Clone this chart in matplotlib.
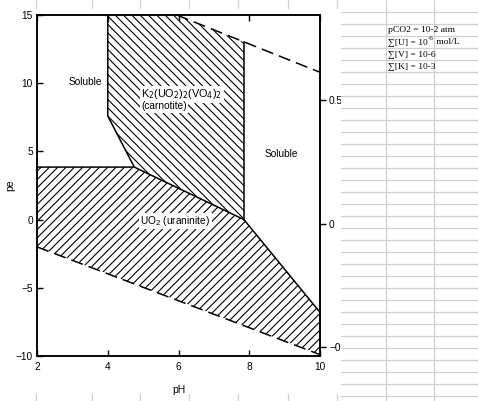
import matplotlib
matplotlib.use('Agg')
import matplotlib.pyplot as plt
from matplotlib.lines import Line2D
from matplotlib.patches import Polygon, Rectangle

plt.rcParams['font.family'] = ['Liberation Sans', 'DejaVu Sans']
plt.rcParams['hatch.linewidth'] = 0.8

# ---- data (pH, pe) ----
uraninite_ph = [2, 4.75, 7.85, 10, 10, 2]
uraninite_pe = [3.85, 3.85, 0, -6.8, -9.9, -2]
carnotite_ph = [4, 5.95, 7.85, 7.85, 4.75, 4]
carnotite_pe = [15, 15, 13, 0, 3.85, 7.6]

uo2_top_ph = [2, 4.75, 7.85, 10]
uo2_top_pe = [3.85, 3.85, 0, -6.8]
carn_left_ph = [4, 4, 4.75]
carn_left_pe = [15, 7.6, 3.85]
carn_right_ph = [7.85, 7.85]
carn_right_pe = [0, 13]
upper_dash_ph = [5.95, 10]
upper_dash_pe = [15, 10.8]
lower_dash_ph = [2, 10]
lower_dash_pe = [-2, -9.9]

x_ticks = [2, 4, 6, 8, 10]
y_ticks = [-10, -5, 0, 5, 10, 15]
eh_ticks = [-0.5, 0, 0.5]
eh_labels = ['\u22120', '0', '0.5']

# each note: list of (text, is_superscript)
notes = [[('pCO2 = 10-2 atm', False)],
         [('\u2211[U] = 10', False), ('-6', True), (' mol/L', False)],
         [('\u2211[V] = 10-6', False)],
         [('\u2211[K] = 10-3', False)]]

W, H = 478, 401
fig = plt.figure(figsize=(W / 100, H / 100), dpi=100)
ax = fig.add_axes([37 / W, 1 - 356 / H, 283 / W, 341 / H])

ax.add_patch(Polygon(list(zip(uraninite_ph, uraninite_pe)), closed=True,
                     facecolor='none', edgecolor='black', linewidth=0,
                     hatch='////', zorder=1))
ax.add_patch(Polygon(list(zip(carnotite_ph, carnotite_pe)), closed=True,
                     facecolor='none', edgecolor='black', linewidth=0,
                     hatch='\\\\\\\\', zorder=1))

lw = 1.1
ax.plot(uo2_top_ph, uo2_top_pe, color='black', lw=lw, zorder=3)
ax.plot(carn_left_ph, carn_left_pe, color='black', lw=lw, zorder=3)
ax.plot(carn_right_ph, carn_right_pe, color='black', lw=lw, zorder=3)
ax.plot(upper_dash_ph, upper_dash_pe, color='black', lw=lw, dashes=(8, 4), zorder=3)
ax.plot(lower_dash_ph, lower_dash_pe, color='black', lw=lw, dashes=(8, 4), zorder=3)

ax.set_xlim(2, 10)
ax.set_ylim(-10, 15)
ax.set_xticks(x_ticks)
ax.set_yticks(y_ticks)
ax.set_yticklabels([str(v).replace('-', '\u2212') for v in y_ticks])
ax.tick_params(axis='both', direction='in', length=4.5, width=1, labelsize=7.3,
               pad=3)
ax.tick_params(axis='x', top=True, pad=4.5)
for s in ax.spines.values():
    s.set_linewidth(1.1)

ax.set_xlabel('pH', fontsize=7.5, labelpad=9.5)
ax.set_ylabel('pe', fontsize=7.5, labelpad=0)

bb = dict(facecolor='white', edgecolor='none', pad=1)
ax.text(3.36, 10.1, 'Soluble', fontsize=7.3, ha='center', va='center')
ax.text(8.9, 4.8, 'Soluble', fontsize=7.3, ha='center', va='center')
ax.text(4.95, 9.2, r'K$_2$(UO$_2$)$_2$(VO$_4$)$_2$', fontsize=7.8, ha='left',
        va='center', bbox=bb, zorder=4)
ax.text(4.95, 8.3, '(carnotite)', fontsize=7.3, ha='left', va='center',
        bbox=bb, zorder=4)
ax.text(4.92, -0.1, r'UO$_2$ (uraninite)', fontsize=7.3, ha='left',
        va='center', bbox=bb, zorder=4)

ax2 = ax.twinx()
ax2.set_ylim(-0.536, 0.844)
ax2.set_yticks(eh_ticks)
ax2.set_yticklabels(eh_labels)
ax2.tick_params(axis='y', direction='out', length=4.5, width=1, labelsize=7.3,
                pad=2)
for s in ax2.spines.values():
    s.set_linewidth(1.1)

# ---- spreadsheet backdrop on the right ----
grid_c = '#d0d0d0'
fig.add_artist(Rectangle((341 / W, 0), 1 - 341 / W, 1, transform=fig.transFigure,
                         facecolor='white', edgecolor='none', zorder=5))
for k in range(33):
    y = 12 + 12 * k
    fig.add_artist(Line2D([341 / W, 1], [1 - y / H, 1 - y / H],
                          transform=fig.transFigure, color=grid_c, lw=0.9, zorder=6))
for x in [386, 434]:
    fig.add_artist(Line2D([x / W, x / W], [0, 1], transform=fig.transFigure,
                          color=grid_c, lw=0.9, zorder=6))
for x in [36, 92, 140, 189, 238, 288, 337]:
    fig.add_artist(Line2D([x / W, x / W], [1, 1 - 8 / H], transform=fig.transFigure,
                          color=grid_c, lw=0.9, zorder=6))
    fig.add_artist(Line2D([x / W, x / W], [0, 7 / H], transform=fig.transFigure,
                          color=grid_c, lw=0.9, zorder=6))

renderer = fig.canvas.get_renderer()
serif = ['Liberation Serif', 'DejaVu Serif']
for i, parts in enumerate(notes):
    y = 1 - (30 + 12 * i) / H
    x = 388 / W
    for txt, sup in parts:
        t = fig.text(x, y + (3.5 / H if sup else 0), txt,
                     fontsize=5.0 if sup else 6.8, ha='left', va='center',
                     family=serif, zorder=7)
        ext = t.get_window_extent(renderer)
        x = ext.x1 / W

fig.savefig('out.png', dpi=100)
